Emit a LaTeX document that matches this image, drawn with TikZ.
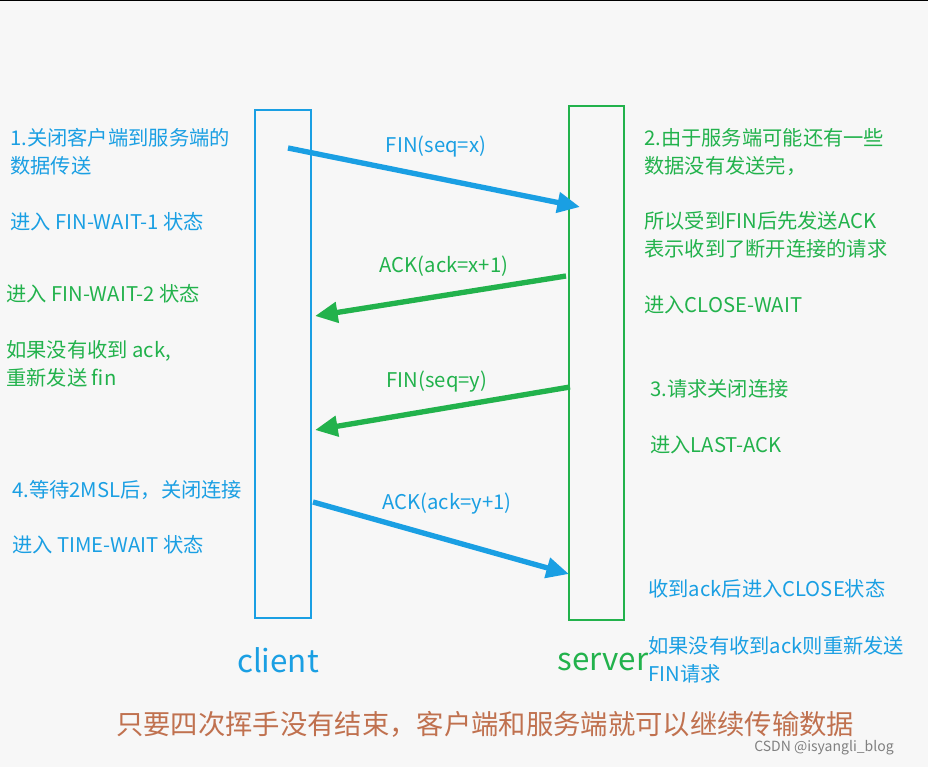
\documentclass[tikz,border=0pt]{standalone}
\usepackage{fontspec}
\setmainfont{Noto Sans CJK SC}
\usetikzlibrary{arrows.meta}
\definecolor{cb}{HTML}{1A9FE3}
\definecolor{cg}{HTML}{22B24C}
\definecolor{cbr}{HTML}{C0714F}
\begin{document}
\begin{tikzpicture}[x=0.75pt,y=-0.75pt,
 txt/.style={anchor=west,align=left,font=\fontsize{15.2}{21}\selectfont,inner sep=0pt},
 lbl/.style={font=\fontsize{15.2}{21}\selectfont,inner sep=0pt},
 arr/.style={line width=4pt,-{Triangle[length=17pt,width=15pt]}},
 life/.style={line width=1.5pt}]
\useasboundingbox (0,0) rectangle (928,767);
\fill[white!97!black] (0,0) rectangle (928,767);
\draw[black,line width=1pt] (0,0.5) -- (928,0.5);
\node[life,draw=cb,minimum width=56*0.75pt,minimum height=508*0.75pt] (cl) at (283,364) {};
\node[life,draw=cg,minimum width=55*0.75pt,minimum height=514*0.75pt] (sv) at (596.5,363) {};
\node[text=cb,font=\fontsize{23.5}{26}\selectfont] (clt) at (278,660) {client};
\node[text=cg,font=\fontsize{23.5}{26}\selectfont] (svt) at (603,662) {server};
\coordinate (a1) at (288,148); \coordinate (b1) at (580,207);
\coordinate (a2) at (566,276); \coordinate (b2) at (315,316);
\coordinate (a3) at (570,387); \coordinate (b3) at (315,430);
\coordinate (a4) at (313,502); \coordinate (b4) at (569,574);
\draw[arr,cb] (a1) -- (b1);
\draw[arr,cg] (a2) -- (b2);
\draw[arr,cg] (a3) -- (b3);
\draw[arr,cb] (a4) -- (b4);
\node[lbl,text=cb] (l1) at (436,147) {FIN(seq=x)};
\node[lbl,text=cg] (l2) at (444,266) {ACK(ack=x+1)};
\node[lbl,text=cg] (l3) at (437,382) {FIN(seq=y)};
\node[lbl,text=cb] (l4) at (447,504) {ACK(ack=y+1)};
\node[txt,text=cb] (t1) at (10,152) {1.关闭客户端到服务端的\\数据传送};
\node[txt,text=cb] (t2) at (10,222) {进入 FIN-WAIT-1 状态};
\node[txt,text=cg] (t3) at (6,294) {进入 FIN-WAIT-2 状态};
\node[txt,text=cg] (t4) at (6,364) {如果没有收到 ack,\\重新发送 fin};
\node[txt,text=cb] (t5) at (12,490) {4.等待2MSL后，关闭连接};
\node[txt,text=cb] (t6) at (12,545) {进入 TIME-WAIT 状态};
\node[txt,text=cg] (r1) at (644,152) {2.由于服务端可能还有一些\\数据没有发送完，};
\node[txt,text=cg] (r2) at (644,235) {所以受到FIN后先发送ACK\\表示收到了断开连接的请求};
\node[txt,text=cg] (r3) at (644,305) {进入CLOSE-WAIT};
\node[txt,text=cg] (r4) at (650,389) {3.请求关闭连接};
\node[txt,text=cg] (r5) at (650,445) {进入LAST-ACK};
\node[txt,text=cb] (r6) at (648,589) {收到ack后进入CLOSE状态};
\node[txt,text=cb] (r7) at (648,660) {如果没有收到ack则重新发送\\FIN请求};
\node[text=cbr,inner sep=0pt,font=\fontsize{20.5}{24}\selectfont] (bt) at (485,724) {只要四次挥手没有结束，客户端和服务端就可以继续传输数据};
\node[text=gray,inner sep=0pt,font=\fontsize{10.5}{12}\selectfont] (wm) at (824,748) {CSDN @isyangli\_blog};
\end{tikzpicture}
\end{document}
